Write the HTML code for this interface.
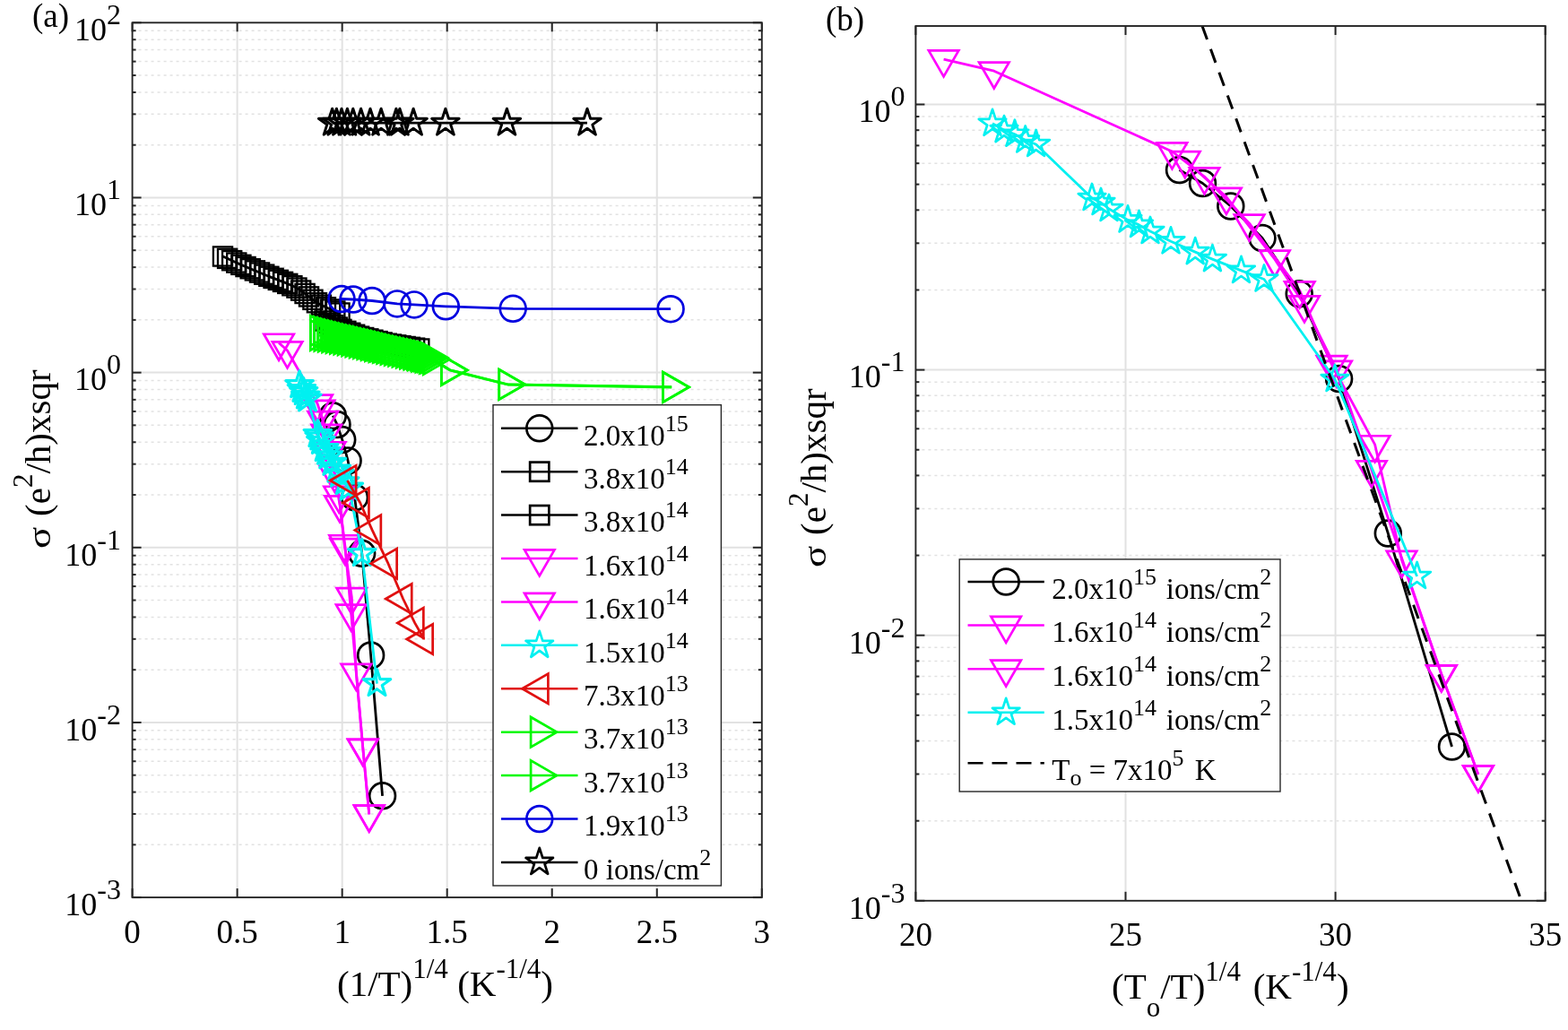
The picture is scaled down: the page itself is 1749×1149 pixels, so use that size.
<!DOCTYPE html>
<html><head><meta charset="utf-8"><title>plot</title>
<style>html,body{margin:0;padding:0;background:#fff;}svg{display:block;}</style>
</head><body>
<svg width="1749" height="1149" viewBox="0 0 1749 1149" font-family="'Liberation Serif','Times New Roman',serif">
<rect width="1749" height="1149" fill="#ffffff"/>
<line x1="147.6" y1="942.35" x2="849.8" y2="942.35" stroke="#e2e2e2" stroke-width="1.5" stroke-dasharray="3 4"/>
<line x1="147.6" y1="907.99" x2="849.8" y2="907.99" stroke="#e2e2e2" stroke-width="1.5" stroke-dasharray="3 4"/>
<line x1="147.6" y1="883.6" x2="849.8" y2="883.6" stroke="#e2e2e2" stroke-width="1.5" stroke-dasharray="3 4"/>
<line x1="147.6" y1="864.69" x2="849.8" y2="864.69" stroke="#e2e2e2" stroke-width="1.5" stroke-dasharray="3 4"/>
<line x1="147.6" y1="849.24" x2="849.8" y2="849.24" stroke="#e2e2e2" stroke-width="1.5" stroke-dasharray="3 4"/>
<line x1="147.6" y1="836.17" x2="849.8" y2="836.17" stroke="#e2e2e2" stroke-width="1.5" stroke-dasharray="3 4"/>
<line x1="147.6" y1="824.85" x2="849.8" y2="824.85" stroke="#e2e2e2" stroke-width="1.5" stroke-dasharray="3 4"/>
<line x1="147.6" y1="814.87" x2="849.8" y2="814.87" stroke="#e2e2e2" stroke-width="1.5" stroke-dasharray="3 4"/>
<line x1="147.6" y1="747.19" x2="849.8" y2="747.19" stroke="#e2e2e2" stroke-width="1.5" stroke-dasharray="3 4"/>
<line x1="147.6" y1="712.83" x2="849.8" y2="712.83" stroke="#e2e2e2" stroke-width="1.5" stroke-dasharray="3 4"/>
<line x1="147.6" y1="688.44" x2="849.8" y2="688.44" stroke="#e2e2e2" stroke-width="1.5" stroke-dasharray="3 4"/>
<line x1="147.6" y1="669.53" x2="849.8" y2="669.53" stroke="#e2e2e2" stroke-width="1.5" stroke-dasharray="3 4"/>
<line x1="147.6" y1="654.08" x2="849.8" y2="654.08" stroke="#e2e2e2" stroke-width="1.5" stroke-dasharray="3 4"/>
<line x1="147.6" y1="641.01" x2="849.8" y2="641.01" stroke="#e2e2e2" stroke-width="1.5" stroke-dasharray="3 4"/>
<line x1="147.6" y1="629.69" x2="849.8" y2="629.69" stroke="#e2e2e2" stroke-width="1.5" stroke-dasharray="3 4"/>
<line x1="147.6" y1="619.71" x2="849.8" y2="619.71" stroke="#e2e2e2" stroke-width="1.5" stroke-dasharray="3 4"/>
<line x1="147.6" y1="552.03" x2="849.8" y2="552.03" stroke="#e2e2e2" stroke-width="1.5" stroke-dasharray="3 4"/>
<line x1="147.6" y1="517.67" x2="849.8" y2="517.67" stroke="#e2e2e2" stroke-width="1.5" stroke-dasharray="3 4"/>
<line x1="147.6" y1="493.28" x2="849.8" y2="493.28" stroke="#e2e2e2" stroke-width="1.5" stroke-dasharray="3 4"/>
<line x1="147.6" y1="474.37" x2="849.8" y2="474.37" stroke="#e2e2e2" stroke-width="1.5" stroke-dasharray="3 4"/>
<line x1="147.6" y1="458.92" x2="849.8" y2="458.92" stroke="#e2e2e2" stroke-width="1.5" stroke-dasharray="3 4"/>
<line x1="147.6" y1="445.85" x2="849.8" y2="445.85" stroke="#e2e2e2" stroke-width="1.5" stroke-dasharray="3 4"/>
<line x1="147.6" y1="434.53" x2="849.8" y2="434.53" stroke="#e2e2e2" stroke-width="1.5" stroke-dasharray="3 4"/>
<line x1="147.6" y1="424.55" x2="849.8" y2="424.55" stroke="#e2e2e2" stroke-width="1.5" stroke-dasharray="3 4"/>
<line x1="147.6" y1="356.87" x2="849.8" y2="356.87" stroke="#e2e2e2" stroke-width="1.5" stroke-dasharray="3 4"/>
<line x1="147.6" y1="322.51" x2="849.8" y2="322.51" stroke="#e2e2e2" stroke-width="1.5" stroke-dasharray="3 4"/>
<line x1="147.6" y1="298.12" x2="849.8" y2="298.12" stroke="#e2e2e2" stroke-width="1.5" stroke-dasharray="3 4"/>
<line x1="147.6" y1="279.21" x2="849.8" y2="279.21" stroke="#e2e2e2" stroke-width="1.5" stroke-dasharray="3 4"/>
<line x1="147.6" y1="263.76" x2="849.8" y2="263.76" stroke="#e2e2e2" stroke-width="1.5" stroke-dasharray="3 4"/>
<line x1="147.6" y1="250.69" x2="849.8" y2="250.69" stroke="#e2e2e2" stroke-width="1.5" stroke-dasharray="3 4"/>
<line x1="147.6" y1="239.37" x2="849.8" y2="239.37" stroke="#e2e2e2" stroke-width="1.5" stroke-dasharray="3 4"/>
<line x1="147.6" y1="229.39" x2="849.8" y2="229.39" stroke="#e2e2e2" stroke-width="1.5" stroke-dasharray="3 4"/>
<line x1="147.6" y1="161.71" x2="849.8" y2="161.71" stroke="#e2e2e2" stroke-width="1.5" stroke-dasharray="3 4"/>
<line x1="147.6" y1="127.35" x2="849.8" y2="127.35" stroke="#e2e2e2" stroke-width="1.5" stroke-dasharray="3 4"/>
<line x1="147.6" y1="102.96" x2="849.8" y2="102.96" stroke="#e2e2e2" stroke-width="1.5" stroke-dasharray="3 4"/>
<line x1="147.6" y1="84.05" x2="849.8" y2="84.05" stroke="#e2e2e2" stroke-width="1.5" stroke-dasharray="3 4"/>
<line x1="147.6" y1="68.6" x2="849.8" y2="68.6" stroke="#e2e2e2" stroke-width="1.5" stroke-dasharray="3 4"/>
<line x1="147.6" y1="55.53" x2="849.8" y2="55.53" stroke="#e2e2e2" stroke-width="1.5" stroke-dasharray="3 4"/>
<line x1="147.6" y1="44.21" x2="849.8" y2="44.21" stroke="#e2e2e2" stroke-width="1.5" stroke-dasharray="3 4"/>
<line x1="147.6" y1="34.23" x2="849.8" y2="34.23" stroke="#e2e2e2" stroke-width="1.5" stroke-dasharray="3 4"/>
<line x1="147.6" y1="805.94" x2="849.8" y2="805.94" stroke="#e2e2e2" stroke-width="2"/>
<line x1="147.6" y1="610.78" x2="849.8" y2="610.78" stroke="#e2e2e2" stroke-width="2"/>
<line x1="147.6" y1="415.62" x2="849.8" y2="415.62" stroke="#e2e2e2" stroke-width="2"/>
<line x1="147.6" y1="220.46" x2="849.8" y2="220.46" stroke="#e2e2e2" stroke-width="2"/>
<line x1="264.63" y1="25.3" x2="264.63" y2="1001.1" stroke="#e2e2e2" stroke-width="2"/>
<line x1="381.67" y1="25.3" x2="381.67" y2="1001.1" stroke="#e2e2e2" stroke-width="2"/>
<line x1="498.7" y1="25.3" x2="498.7" y2="1001.1" stroke="#e2e2e2" stroke-width="2"/>
<line x1="615.73" y1="25.3" x2="615.73" y2="1001.1" stroke="#e2e2e2" stroke-width="2"/>
<line x1="732.77" y1="25.3" x2="732.77" y2="1001.1" stroke="#e2e2e2" stroke-width="2"/>
<line x1="1021.4" y1="915.67" x2="1723.7" y2="915.67" stroke="#e2e2e2" stroke-width="1.5" stroke-dasharray="3 4"/>
<line x1="1021.4" y1="863.52" x2="1723.7" y2="863.52" stroke="#e2e2e2" stroke-width="1.5" stroke-dasharray="3 4"/>
<line x1="1021.4" y1="826.53" x2="1723.7" y2="826.53" stroke="#e2e2e2" stroke-width="1.5" stroke-dasharray="3 4"/>
<line x1="1021.4" y1="797.83" x2="1723.7" y2="797.83" stroke="#e2e2e2" stroke-width="1.5" stroke-dasharray="3 4"/>
<line x1="1021.4" y1="774.39" x2="1723.7" y2="774.39" stroke="#e2e2e2" stroke-width="1.5" stroke-dasharray="3 4"/>
<line x1="1021.4" y1="754.57" x2="1723.7" y2="754.57" stroke="#e2e2e2" stroke-width="1.5" stroke-dasharray="3 4"/>
<line x1="1021.4" y1="737.4" x2="1723.7" y2="737.4" stroke="#e2e2e2" stroke-width="1.5" stroke-dasharray="3 4"/>
<line x1="1021.4" y1="722.25" x2="1723.7" y2="722.25" stroke="#e2e2e2" stroke-width="1.5" stroke-dasharray="3 4"/>
<line x1="1021.4" y1="619.57" x2="1723.7" y2="619.57" stroke="#e2e2e2" stroke-width="1.5" stroke-dasharray="3 4"/>
<line x1="1021.4" y1="567.42" x2="1723.7" y2="567.42" stroke="#e2e2e2" stroke-width="1.5" stroke-dasharray="3 4"/>
<line x1="1021.4" y1="530.43" x2="1723.7" y2="530.43" stroke="#e2e2e2" stroke-width="1.5" stroke-dasharray="3 4"/>
<line x1="1021.4" y1="501.73" x2="1723.7" y2="501.73" stroke="#e2e2e2" stroke-width="1.5" stroke-dasharray="3 4"/>
<line x1="1021.4" y1="478.29" x2="1723.7" y2="478.29" stroke="#e2e2e2" stroke-width="1.5" stroke-dasharray="3 4"/>
<line x1="1021.4" y1="458.47" x2="1723.7" y2="458.47" stroke="#e2e2e2" stroke-width="1.5" stroke-dasharray="3 4"/>
<line x1="1021.4" y1="441.3" x2="1723.7" y2="441.3" stroke="#e2e2e2" stroke-width="1.5" stroke-dasharray="3 4"/>
<line x1="1021.4" y1="426.15" x2="1723.7" y2="426.15" stroke="#e2e2e2" stroke-width="1.5" stroke-dasharray="3 4"/>
<line x1="1021.4" y1="323.47" x2="1723.7" y2="323.47" stroke="#e2e2e2" stroke-width="1.5" stroke-dasharray="3 4"/>
<line x1="1021.4" y1="271.32" x2="1723.7" y2="271.32" stroke="#e2e2e2" stroke-width="1.5" stroke-dasharray="3 4"/>
<line x1="1021.4" y1="234.33" x2="1723.7" y2="234.33" stroke="#e2e2e2" stroke-width="1.5" stroke-dasharray="3 4"/>
<line x1="1021.4" y1="205.63" x2="1723.7" y2="205.63" stroke="#e2e2e2" stroke-width="1.5" stroke-dasharray="3 4"/>
<line x1="1021.4" y1="182.19" x2="1723.7" y2="182.19" stroke="#e2e2e2" stroke-width="1.5" stroke-dasharray="3 4"/>
<line x1="1021.4" y1="162.37" x2="1723.7" y2="162.37" stroke="#e2e2e2" stroke-width="1.5" stroke-dasharray="3 4"/>
<line x1="1021.4" y1="145.2" x2="1723.7" y2="145.2" stroke="#e2e2e2" stroke-width="1.5" stroke-dasharray="3 4"/>
<line x1="1021.4" y1="130.05" x2="1723.7" y2="130.05" stroke="#e2e2e2" stroke-width="1.5" stroke-dasharray="3 4"/>
<line x1="1021.4" y1="708.7" x2="1723.7" y2="708.7" stroke="#e2e2e2" stroke-width="2"/>
<line x1="1021.4" y1="412.6" x2="1723.7" y2="412.6" stroke="#e2e2e2" stroke-width="2"/>
<line x1="1021.4" y1="116.5" x2="1723.7" y2="116.5" stroke="#e2e2e2" stroke-width="2"/>
<line x1="1255.5" y1="29" x2="1255.5" y2="1004.8" stroke="#e2e2e2" stroke-width="2"/>
<line x1="1489.6" y1="29" x2="1489.6" y2="1004.8" stroke="#e2e2e2" stroke-width="2"/>
<polyline points="371.3,463.73 376.03,473.62 381.72,490.43 388.11,513.89 395.6,554.89 403.68,617.37 413.62,731 426.56,887.87" fill="none" stroke="#000000" stroke-width="2.8" stroke-linejoin="round"/>
<circle cx="371.3" cy="463.73" r="14.4" fill="none" stroke="#000000" stroke-width="2.7"/>
<circle cx="376.03" cy="473.62" r="14.4" fill="none" stroke="#000000" stroke-width="2.7"/>
<circle cx="381.72" cy="490.43" r="14.4" fill="none" stroke="#000000" stroke-width="2.7"/>
<circle cx="388.11" cy="513.89" r="14.4" fill="none" stroke="#000000" stroke-width="2.7"/>
<circle cx="395.6" cy="554.89" r="14.4" fill="none" stroke="#000000" stroke-width="2.7"/>
<circle cx="403.68" cy="617.37" r="14.4" fill="none" stroke="#000000" stroke-width="2.7"/>
<circle cx="413.62" cy="731" r="14.4" fill="none" stroke="#000000" stroke-width="2.7"/>
<circle cx="426.56" cy="887.87" r="14.4" fill="none" stroke="#000000" stroke-width="2.7"/>
<polyline points="248.5,286 253.59,288.35 258.67,290.69 263.76,293.04 268.86,295.36 274.02,297.53 279.19,299.69 284.36,301.86 289.52,304.02 294.69,306.19 299.86,308.33 305.09,310.35 310.31,312.37 315.54,314.39 320.76,316.41 325.86,318.73 330.95,321.06 335.65,324.05 340.08,327.47 344.52,330.9 348.94,334.34 353.41,337.7 358.42,340.21 363.43,342.71 368.54,344.98 373.77,346.99 379,349" fill="none" stroke="#000000" stroke-width="2.8" stroke-linejoin="round"/>
<rect x="237.9" y="275.4" width="21.2" height="21.2" fill="none" stroke="#000000" stroke-width="2.3"/>
<rect x="242.99" y="277.75" width="21.2" height="21.2" fill="none" stroke="#000000" stroke-width="2.3"/>
<rect x="248.07" y="280.09" width="21.2" height="21.2" fill="none" stroke="#000000" stroke-width="2.3"/>
<rect x="253.16" y="282.44" width="21.2" height="21.2" fill="none" stroke="#000000" stroke-width="2.3"/>
<rect x="258.26" y="284.76" width="21.2" height="21.2" fill="none" stroke="#000000" stroke-width="2.3"/>
<rect x="263.42" y="286.93" width="21.2" height="21.2" fill="none" stroke="#000000" stroke-width="2.3"/>
<rect x="268.59" y="289.09" width="21.2" height="21.2" fill="none" stroke="#000000" stroke-width="2.3"/>
<rect x="273.76" y="291.26" width="21.2" height="21.2" fill="none" stroke="#000000" stroke-width="2.3"/>
<rect x="278.92" y="293.42" width="21.2" height="21.2" fill="none" stroke="#000000" stroke-width="2.3"/>
<rect x="284.09" y="295.59" width="21.2" height="21.2" fill="none" stroke="#000000" stroke-width="2.3"/>
<rect x="289.26" y="297.73" width="21.2" height="21.2" fill="none" stroke="#000000" stroke-width="2.3"/>
<rect x="294.49" y="299.75" width="21.2" height="21.2" fill="none" stroke="#000000" stroke-width="2.3"/>
<rect x="299.71" y="301.77" width="21.2" height="21.2" fill="none" stroke="#000000" stroke-width="2.3"/>
<rect x="304.94" y="303.79" width="21.2" height="21.2" fill="none" stroke="#000000" stroke-width="2.3"/>
<rect x="310.16" y="305.81" width="21.2" height="21.2" fill="none" stroke="#000000" stroke-width="2.3"/>
<rect x="315.26" y="308.13" width="21.2" height="21.2" fill="none" stroke="#000000" stroke-width="2.3"/>
<rect x="320.35" y="310.46" width="21.2" height="21.2" fill="none" stroke="#000000" stroke-width="2.3"/>
<rect x="325.05" y="313.45" width="21.2" height="21.2" fill="none" stroke="#000000" stroke-width="2.3"/>
<rect x="329.48" y="316.87" width="21.2" height="21.2" fill="none" stroke="#000000" stroke-width="2.3"/>
<rect x="333.92" y="320.3" width="21.2" height="21.2" fill="none" stroke="#000000" stroke-width="2.3"/>
<rect x="338.34" y="323.74" width="21.2" height="21.2" fill="none" stroke="#000000" stroke-width="2.3"/>
<rect x="342.81" y="327.1" width="21.2" height="21.2" fill="none" stroke="#000000" stroke-width="2.3"/>
<rect x="347.82" y="329.61" width="21.2" height="21.2" fill="none" stroke="#000000" stroke-width="2.3"/>
<rect x="352.83" y="332.11" width="21.2" height="21.2" fill="none" stroke="#000000" stroke-width="2.3"/>
<rect x="357.94" y="334.38" width="21.2" height="21.2" fill="none" stroke="#000000" stroke-width="2.3"/>
<rect x="363.17" y="336.39" width="21.2" height="21.2" fill="none" stroke="#000000" stroke-width="2.3"/>
<rect x="368.4" y="338.4" width="21.2" height="21.2" fill="none" stroke="#000000" stroke-width="2.3"/>
<polyline points="362,358 366.73,360.36 371.45,362.73 376.18,365.09 380.94,367.38 385.85,369.34 390.76,371.3 395.66,373.27 400.59,375.16 405.7,376.52 410.81,377.88 415.91,379.24 421.02,380.61 426.13,381.97 431.26,383.2 436.48,384.03 441.7,384.86 446.92,385.69 452.14,386.51 457.36,387.34 462.58,388.17 467.8,389" fill="none" stroke="#000000" stroke-width="2.8" stroke-linejoin="round"/>
<rect x="351.4" y="347.4" width="21.2" height="21.2" fill="none" stroke="#000000" stroke-width="2.3"/>
<rect x="356.13" y="349.76" width="21.2" height="21.2" fill="none" stroke="#000000" stroke-width="2.3"/>
<rect x="360.85" y="352.13" width="21.2" height="21.2" fill="none" stroke="#000000" stroke-width="2.3"/>
<rect x="365.58" y="354.49" width="21.2" height="21.2" fill="none" stroke="#000000" stroke-width="2.3"/>
<rect x="370.34" y="356.78" width="21.2" height="21.2" fill="none" stroke="#000000" stroke-width="2.3"/>
<rect x="375.25" y="358.74" width="21.2" height="21.2" fill="none" stroke="#000000" stroke-width="2.3"/>
<rect x="380.16" y="360.7" width="21.2" height="21.2" fill="none" stroke="#000000" stroke-width="2.3"/>
<rect x="385.06" y="362.67" width="21.2" height="21.2" fill="none" stroke="#000000" stroke-width="2.3"/>
<rect x="389.99" y="364.56" width="21.2" height="21.2" fill="none" stroke="#000000" stroke-width="2.3"/>
<rect x="395.1" y="365.92" width="21.2" height="21.2" fill="none" stroke="#000000" stroke-width="2.3"/>
<rect x="400.21" y="367.28" width="21.2" height="21.2" fill="none" stroke="#000000" stroke-width="2.3"/>
<rect x="405.31" y="368.64" width="21.2" height="21.2" fill="none" stroke="#000000" stroke-width="2.3"/>
<rect x="410.42" y="370.01" width="21.2" height="21.2" fill="none" stroke="#000000" stroke-width="2.3"/>
<rect x="415.53" y="371.37" width="21.2" height="21.2" fill="none" stroke="#000000" stroke-width="2.3"/>
<rect x="420.66" y="372.6" width="21.2" height="21.2" fill="none" stroke="#000000" stroke-width="2.3"/>
<rect x="425.88" y="373.43" width="21.2" height="21.2" fill="none" stroke="#000000" stroke-width="2.3"/>
<rect x="431.1" y="374.26" width="21.2" height="21.2" fill="none" stroke="#000000" stroke-width="2.3"/>
<rect x="436.32" y="375.09" width="21.2" height="21.2" fill="none" stroke="#000000" stroke-width="2.3"/>
<rect x="441.54" y="375.91" width="21.2" height="21.2" fill="none" stroke="#000000" stroke-width="2.3"/>
<rect x="446.76" y="376.74" width="21.2" height="21.2" fill="none" stroke="#000000" stroke-width="2.3"/>
<rect x="451.98" y="377.57" width="21.2" height="21.2" fill="none" stroke="#000000" stroke-width="2.3"/>
<rect x="457.2" y="378.4" width="21.2" height="21.2" fill="none" stroke="#000000" stroke-width="2.3"/>
<polyline points="311.03,382.4 320.52,391.04 354.06,450.22 360.16,468.68 368.62,503.08 378.09,552.38 384.14,606.89 392.26,665.68 397.31,750.44 404.8,834.48 411.74,908.3" fill="none" stroke="#ff00ff" stroke-width="2.8" stroke-linejoin="round"/>
<polygon points="311.03,401.7 294.31,372.75 327.74,372.75" fill="none" stroke="#ff00ff" stroke-width="2.7" stroke-linejoin="miter"/>
<polygon points="320.52,410.34 303.8,381.39 337.23,381.39" fill="none" stroke="#ff00ff" stroke-width="2.7" stroke-linejoin="miter"/>
<polygon points="354.06,469.52 337.35,440.57 370.77,440.57" fill="none" stroke="#ff00ff" stroke-width="2.7" stroke-linejoin="miter"/>
<polygon points="360.16,487.98 343.44,459.03 376.87,459.03" fill="none" stroke="#ff00ff" stroke-width="2.7" stroke-linejoin="miter"/>
<polygon points="368.62,522.38 351.91,493.43 385.33,493.43" fill="none" stroke="#ff00ff" stroke-width="2.7" stroke-linejoin="miter"/>
<polygon points="378.09,571.68 361.38,542.73 394.81,542.73" fill="none" stroke="#ff00ff" stroke-width="2.7" stroke-linejoin="miter"/>
<polygon points="384.14,626.19 367.43,597.24 400.85,597.24" fill="none" stroke="#ff00ff" stroke-width="2.7" stroke-linejoin="miter"/>
<polygon points="392.26,684.98 375.55,656.03 408.98,656.03" fill="none" stroke="#ff00ff" stroke-width="2.7" stroke-linejoin="miter"/>
<polygon points="397.31,769.74 380.6,740.79 414.03,740.79" fill="none" stroke="#ff00ff" stroke-width="2.7" stroke-linejoin="miter"/>
<polygon points="404.8,853.78 388.08,824.83 421.51,824.83" fill="none" stroke="#ff00ff" stroke-width="2.7" stroke-linejoin="miter"/>
<polygon points="411.74,927.6 395.02,898.65 428.45,898.65" fill="none" stroke="#ff00ff" stroke-width="2.7" stroke-linejoin="miter"/>
<polyline points="356.49,456.62 364.28,483.57 373.4,529.45 378.99,562.93 385.07,610.71 391.64,684.2 404.8,834.48 411.74,908.3" fill="none" stroke="#ff00ff" stroke-width="2.8" stroke-linejoin="round"/>
<polygon points="356.49,475.92 339.78,446.97 373.21,446.97" fill="none" stroke="#ff00ff" stroke-width="2.7" stroke-linejoin="miter"/>
<polygon points="364.28,502.87 347.56,473.92 380.99,473.92" fill="none" stroke="#ff00ff" stroke-width="2.7" stroke-linejoin="miter"/>
<polygon points="373.4,548.75 356.68,519.8 390.11,519.8" fill="none" stroke="#ff00ff" stroke-width="2.7" stroke-linejoin="miter"/>
<polygon points="378.99,582.23 362.28,553.28 395.7,553.28" fill="none" stroke="#ff00ff" stroke-width="2.7" stroke-linejoin="miter"/>
<polygon points="385.07,630.01 368.36,601.06 401.78,601.06" fill="none" stroke="#ff00ff" stroke-width="2.7" stroke-linejoin="miter"/>
<polygon points="391.64,703.5 374.93,674.55 408.35,674.55" fill="none" stroke="#ff00ff" stroke-width="2.7" stroke-linejoin="miter"/>
<polygon points="404.8,853.78 388.08,824.83 421.51,824.83" fill="none" stroke="#ff00ff" stroke-width="2.7" stroke-linejoin="miter"/>
<polygon points="411.74,927.6 395.02,898.65 428.45,898.65" fill="none" stroke="#ff00ff" stroke-width="2.7" stroke-linejoin="miter"/>
<polyline points="334.07,429.66 336.44,434.47 338.62,437.5 340.77,441.98 342.94,444.95 354.33,484.5 356.15,487.79 357.79,492.41 361.62,500.58 363.9,504.2 366.19,508.88 370.38,516.33 375.34,524.11 378.85,529.38 384.7,537.82 389.36,544.14 403.77,617.63 420.48,762.64" fill="none" stroke="#00f0f0" stroke-width="2.8" stroke-linejoin="round"/>
<polygon points="334.07,413.66 337.66,424.71 349.29,424.71 339.89,431.55 343.48,442.6 334.07,435.77 324.67,442.6 328.26,431.55 318.86,424.71 330.48,424.71" fill="none" stroke="#00f0f0" stroke-width="3.2" stroke-linejoin="round"/>
<polygon points="336.44,418.47 340.04,429.53 351.66,429.53 342.26,436.36 345.85,447.41 336.44,440.58 327.04,447.41 330.63,436.36 321.23,429.53 332.85,429.53" fill="none" stroke="#00f0f0" stroke-width="3.2" stroke-linejoin="round"/>
<polygon points="338.62,421.5 342.21,432.56 353.83,432.56 344.43,439.39 348.02,450.45 338.62,443.61 329.21,450.45 332.8,439.39 323.4,432.56 335.02,432.56" fill="none" stroke="#00f0f0" stroke-width="3.2" stroke-linejoin="round"/>
<polygon points="340.77,425.98 344.36,437.04 355.99,437.04 346.58,443.87 350.17,454.93 340.77,448.1 331.36,454.93 334.96,443.87 325.55,437.04 337.18,437.04" fill="none" stroke="#00f0f0" stroke-width="3.2" stroke-linejoin="round"/>
<polygon points="342.94,428.95 346.53,440.01 358.16,440.01 348.75,446.84 352.34,457.89 342.94,451.06 333.54,457.89 337.13,446.84 327.72,440.01 339.35,440.01" fill="none" stroke="#00f0f0" stroke-width="3.2" stroke-linejoin="round"/>
<polygon points="354.33,468.5 357.92,479.55 369.54,479.55 360.14,486.38 363.73,497.44 354.33,490.61 344.92,497.44 348.51,486.38 339.11,479.55 350.73,479.55" fill="none" stroke="#00f0f0" stroke-width="3.2" stroke-linejoin="round"/>
<polygon points="356.15,471.79 359.74,482.85 371.37,482.85 361.96,489.68 365.55,500.74 356.15,493.9 346.75,500.74 350.34,489.68 340.93,482.85 352.56,482.85" fill="none" stroke="#00f0f0" stroke-width="3.2" stroke-linejoin="round"/>
<polygon points="357.79,476.41 361.38,487.46 373.01,487.46 363.6,494.29 367.2,505.35 357.79,498.52 348.39,505.35 351.98,494.29 342.58,487.46 354.2,487.46" fill="none" stroke="#00f0f0" stroke-width="3.2" stroke-linejoin="round"/>
<polygon points="361.62,484.58 365.22,495.63 376.84,495.63 367.44,502.47 371.03,513.52 361.62,506.69 352.22,513.52 355.81,502.47 346.41,495.63 358.03,495.63" fill="none" stroke="#00f0f0" stroke-width="3.2" stroke-linejoin="round"/>
<polygon points="363.9,488.2 367.5,499.26 379.12,499.26 369.72,506.09 373.31,517.15 363.9,510.32 354.5,517.15 358.09,506.09 348.69,499.26 360.31,499.26" fill="none" stroke="#00f0f0" stroke-width="3.2" stroke-linejoin="round"/>
<polygon points="366.19,492.88 369.78,503.94 381.4,503.94 372,510.77 375.59,521.83 366.19,514.99 356.78,521.83 360.37,510.77 350.97,503.94 362.59,503.94" fill="none" stroke="#00f0f0" stroke-width="3.2" stroke-linejoin="round"/>
<polygon points="370.38,500.33 373.97,511.39 385.6,511.39 376.19,518.22 379.79,529.28 370.38,522.44 360.98,529.28 364.57,518.22 355.16,511.39 366.79,511.39" fill="none" stroke="#00f0f0" stroke-width="3.2" stroke-linejoin="round"/>
<polygon points="375.34,508.11 378.94,519.16 390.56,519.16 381.16,526 384.75,537.05 375.34,530.22 365.94,537.05 369.53,526 360.13,519.16 371.75,519.16" fill="none" stroke="#00f0f0" stroke-width="3.2" stroke-linejoin="round"/>
<polygon points="378.85,513.38 382.44,524.44 394.06,524.44 384.66,531.27 388.25,542.33 378.85,535.49 369.44,542.33 373.03,531.27 363.63,524.44 375.26,524.44" fill="none" stroke="#00f0f0" stroke-width="3.2" stroke-linejoin="round"/>
<polygon points="384.7,521.82 388.3,532.87 399.92,532.87 390.52,539.71 394.11,550.76 384.7,543.93 375.3,550.76 378.89,539.71 369.49,532.87 381.11,532.87" fill="none" stroke="#00f0f0" stroke-width="3.2" stroke-linejoin="round"/>
<polygon points="389.36,528.14 392.95,539.2 404.57,539.2 395.17,546.03 398.76,557.09 389.36,550.26 379.95,557.09 383.54,546.03 374.14,539.2 385.76,539.2" fill="none" stroke="#00f0f0" stroke-width="3.2" stroke-linejoin="round"/>
<polygon points="403.77,601.63 407.36,612.69 418.99,612.69 409.58,619.52 413.18,630.58 403.77,623.75 394.37,630.58 397.96,619.52 388.55,612.69 400.18,612.69" fill="none" stroke="#00f0f0" stroke-width="3.2" stroke-linejoin="round"/>
<polygon points="420.48,746.64 424.08,757.69 435.7,757.69 426.3,764.53 429.89,775.58 420.48,768.75 411.08,775.58 414.67,764.53 405.27,757.69 416.89,757.69" fill="none" stroke="#00f0f0" stroke-width="3.2" stroke-linejoin="round"/>
<polyline points="387.5,536 401.8,561 415.2,591.4 433,628.7 449.6,668 462.7,694.9 473,713" fill="none" stroke="#e01010" stroke-width="2.8" stroke-linejoin="round"/>
<polygon points="368.2,536 397.15,519.29 397.15,552.71" fill="none" stroke="#e01010" stroke-width="2.7" stroke-linejoin="miter"/>
<polygon points="382.5,561 411.45,544.29 411.45,577.71" fill="none" stroke="#e01010" stroke-width="2.7" stroke-linejoin="miter"/>
<polygon points="395.9,591.4 424.85,574.69 424.85,608.11" fill="none" stroke="#e01010" stroke-width="2.7" stroke-linejoin="miter"/>
<polygon points="413.7,628.7 442.65,611.99 442.65,645.41" fill="none" stroke="#e01010" stroke-width="2.7" stroke-linejoin="miter"/>
<polygon points="430.3,668 459.25,651.29 459.25,684.71" fill="none" stroke="#e01010" stroke-width="2.7" stroke-linejoin="miter"/>
<polygon points="443.4,694.9 472.35,678.19 472.35,711.61" fill="none" stroke="#e01010" stroke-width="2.7" stroke-linejoin="miter"/>
<polygon points="453.7,713 482.65,696.29 482.65,729.71" fill="none" stroke="#e01010" stroke-width="2.7" stroke-linejoin="miter"/>
<polyline points="356,369 359.98,370.06 363.95,371.12 367.93,372.18 371.91,373.24 375.88,374.3 379.86,375.36 383.84,376.42 387.83,377.41 391.85,378.32 395.86,379.22 399.88,380.12 403.9,381.03 407.9,381.96 411.9,382.94 415.9,383.91 419.9,384.88 423.9,385.85 427.9,386.83 431.9,387.8 435.9,388.77 439.9,389.75 443.9,390.7 447.92,391.58 451.94,392.47 455.96,393.35 459.98,394.24 464,395.12 468.02,396.01 472.01,397 476.01,398 480,399 502,412.8 566.4,428.8 749.2,431.7" fill="none" stroke="#00f800" stroke-width="2.8" stroke-linejoin="round"/>
<polygon points="375.3,369 346.35,352.29 346.35,385.71" fill="none" stroke="#00f800" stroke-width="2.7" stroke-linejoin="miter"/>
<polygon points="379.28,370.06 350.33,353.35 350.33,386.77" fill="none" stroke="#00f800" stroke-width="2.7" stroke-linejoin="miter"/>
<polygon points="383.25,371.12 354.3,354.41 354.3,387.83" fill="none" stroke="#00f800" stroke-width="2.7" stroke-linejoin="miter"/>
<polygon points="387.23,372.18 358.28,355.47 358.28,388.9" fill="none" stroke="#00f800" stroke-width="2.7" stroke-linejoin="miter"/>
<polygon points="391.21,373.24 362.26,356.53 362.26,389.96" fill="none" stroke="#00f800" stroke-width="2.7" stroke-linejoin="miter"/>
<polygon points="395.18,374.3 366.23,357.59 366.23,391.02" fill="none" stroke="#00f800" stroke-width="2.7" stroke-linejoin="miter"/>
<polygon points="399.16,375.36 370.21,358.65 370.21,392.08" fill="none" stroke="#00f800" stroke-width="2.7" stroke-linejoin="miter"/>
<polygon points="403.14,376.42 374.19,359.71 374.19,393.14" fill="none" stroke="#00f800" stroke-width="2.7" stroke-linejoin="miter"/>
<polygon points="407.13,377.41 378.18,360.7 378.18,394.13" fill="none" stroke="#00f800" stroke-width="2.7" stroke-linejoin="miter"/>
<polygon points="411.15,378.32 382.2,361.6 382.2,395.03" fill="none" stroke="#00f800" stroke-width="2.7" stroke-linejoin="miter"/>
<polygon points="415.16,379.22 386.21,362.51 386.21,395.93" fill="none" stroke="#00f800" stroke-width="2.7" stroke-linejoin="miter"/>
<polygon points="419.18,380.12 390.23,363.41 390.23,396.84" fill="none" stroke="#00f800" stroke-width="2.7" stroke-linejoin="miter"/>
<polygon points="423.2,381.03 394.25,364.31 394.25,397.74" fill="none" stroke="#00f800" stroke-width="2.7" stroke-linejoin="miter"/>
<polygon points="427.2,381.96 398.25,365.25 398.25,398.68" fill="none" stroke="#00f800" stroke-width="2.7" stroke-linejoin="miter"/>
<polygon points="431.2,382.94 402.25,366.22 402.25,399.65" fill="none" stroke="#00f800" stroke-width="2.7" stroke-linejoin="miter"/>
<polygon points="435.2,383.91 406.25,367.19 406.25,400.62" fill="none" stroke="#00f800" stroke-width="2.7" stroke-linejoin="miter"/>
<polygon points="439.2,384.88 410.25,368.17 410.25,401.6" fill="none" stroke="#00f800" stroke-width="2.7" stroke-linejoin="miter"/>
<polygon points="443.2,385.85 414.25,369.14 414.25,402.57" fill="none" stroke="#00f800" stroke-width="2.7" stroke-linejoin="miter"/>
<polygon points="447.2,386.83 418.25,370.11 418.25,403.54" fill="none" stroke="#00f800" stroke-width="2.7" stroke-linejoin="miter"/>
<polygon points="451.2,387.8 422.25,371.09 422.25,404.51" fill="none" stroke="#00f800" stroke-width="2.7" stroke-linejoin="miter"/>
<polygon points="455.2,388.77 426.25,372.06 426.25,405.49" fill="none" stroke="#00f800" stroke-width="2.7" stroke-linejoin="miter"/>
<polygon points="459.2,389.75 430.25,373.03 430.25,406.46" fill="none" stroke="#00f800" stroke-width="2.7" stroke-linejoin="miter"/>
<polygon points="463.2,390.7 434.25,373.98 434.25,407.41" fill="none" stroke="#00f800" stroke-width="2.7" stroke-linejoin="miter"/>
<polygon points="467.22,391.58 438.27,374.87 438.27,408.3" fill="none" stroke="#00f800" stroke-width="2.7" stroke-linejoin="miter"/>
<polygon points="471.24,392.47 442.29,375.75 442.29,409.18" fill="none" stroke="#00f800" stroke-width="2.7" stroke-linejoin="miter"/>
<polygon points="475.26,393.35 446.31,376.64 446.31,410.07" fill="none" stroke="#00f800" stroke-width="2.7" stroke-linejoin="miter"/>
<polygon points="479.28,394.24 450.33,377.52 450.33,410.95" fill="none" stroke="#00f800" stroke-width="2.7" stroke-linejoin="miter"/>
<polygon points="483.3,395.12 454.35,378.41 454.35,411.83" fill="none" stroke="#00f800" stroke-width="2.7" stroke-linejoin="miter"/>
<polygon points="487.32,396.01 458.37,379.29 458.37,412.72" fill="none" stroke="#00f800" stroke-width="2.7" stroke-linejoin="miter"/>
<polygon points="491.31,397 462.36,380.29 462.36,413.72" fill="none" stroke="#00f800" stroke-width="2.7" stroke-linejoin="miter"/>
<polygon points="495.31,398 466.36,381.29 466.36,414.72" fill="none" stroke="#00f800" stroke-width="2.7" stroke-linejoin="miter"/>
<polygon points="499.3,399 470.35,382.29 470.35,415.71" fill="none" stroke="#00f800" stroke-width="2.7" stroke-linejoin="miter"/>
<polygon points="521.3,412.8 492.35,396.09 492.35,429.51" fill="none" stroke="#00f800" stroke-width="2.7" stroke-linejoin="miter"/>
<polygon points="585.7,428.8 556.75,412.09 556.75,445.51" fill="none" stroke="#00f800" stroke-width="2.7" stroke-linejoin="miter"/>
<polygon points="768.5,431.7 739.55,414.99 739.55,448.41" fill="none" stroke="#00f800" stroke-width="2.7" stroke-linejoin="miter"/>
<polyline points="356,374 360.39,374.73 364.77,375.46 369.16,376.19 373.54,376.92 377.93,377.65 382.31,378.39 386.69,379.16 391.03,380.13 395.36,381.11 399.7,382.08 404.04,383.06 408.38,384.01 412.73,384.95 417.07,385.89 421.42,386.83 425.76,387.77 430.11,388.71 434.45,389.65 438.8,390.59 443.14,391.53 447.48,392.49 451.83,393.44 456.17,394.4 460.51,395.35 464.85,396.31 469.18,397.34 473.45,398.56 477.73,399.78 482,401 502,413 566.4,429 749.2,432" fill="none" stroke="#00f800" stroke-width="2.8" stroke-linejoin="round"/>
<polygon points="375.3,374 346.35,357.29 346.35,390.71" fill="none" stroke="#00f800" stroke-width="2.7" stroke-linejoin="miter"/>
<polygon points="379.69,374.73 350.74,358.02 350.74,391.44" fill="none" stroke="#00f800" stroke-width="2.7" stroke-linejoin="miter"/>
<polygon points="384.07,375.46 355.12,358.75 355.12,392.18" fill="none" stroke="#00f800" stroke-width="2.7" stroke-linejoin="miter"/>
<polygon points="388.46,376.19 359.51,359.48 359.51,392.91" fill="none" stroke="#00f800" stroke-width="2.7" stroke-linejoin="miter"/>
<polygon points="392.84,376.92 363.89,360.21 363.89,393.64" fill="none" stroke="#00f800" stroke-width="2.7" stroke-linejoin="miter"/>
<polygon points="397.23,377.65 368.28,360.94 368.28,394.37" fill="none" stroke="#00f800" stroke-width="2.7" stroke-linejoin="miter"/>
<polygon points="401.61,378.39 372.66,361.67 372.66,395.1" fill="none" stroke="#00f800" stroke-width="2.7" stroke-linejoin="miter"/>
<polygon points="405.99,379.16 377.04,362.44 377.04,395.87" fill="none" stroke="#00f800" stroke-width="2.7" stroke-linejoin="miter"/>
<polygon points="410.33,380.13 381.38,363.42 381.38,396.84" fill="none" stroke="#00f800" stroke-width="2.7" stroke-linejoin="miter"/>
<polygon points="414.66,381.11 385.71,364.39 385.71,397.82" fill="none" stroke="#00f800" stroke-width="2.7" stroke-linejoin="miter"/>
<polygon points="419,382.08 390.05,365.37 390.05,398.8" fill="none" stroke="#00f800" stroke-width="2.7" stroke-linejoin="miter"/>
<polygon points="423.34,383.06 394.39,366.34 394.39,399.77" fill="none" stroke="#00f800" stroke-width="2.7" stroke-linejoin="miter"/>
<polygon points="427.68,384.01 398.73,367.3 398.73,400.73" fill="none" stroke="#00f800" stroke-width="2.7" stroke-linejoin="miter"/>
<polygon points="432.03,384.95 403.08,368.24 403.08,401.67" fill="none" stroke="#00f800" stroke-width="2.7" stroke-linejoin="miter"/>
<polygon points="436.37,385.89 407.42,369.18 407.42,402.61" fill="none" stroke="#00f800" stroke-width="2.7" stroke-linejoin="miter"/>
<polygon points="440.72,386.83 411.77,370.12 411.77,403.55" fill="none" stroke="#00f800" stroke-width="2.7" stroke-linejoin="miter"/>
<polygon points="445.06,387.77 416.11,371.06 416.11,404.49" fill="none" stroke="#00f800" stroke-width="2.7" stroke-linejoin="miter"/>
<polygon points="449.41,388.71 420.46,372 420.46,405.43" fill="none" stroke="#00f800" stroke-width="2.7" stroke-linejoin="miter"/>
<polygon points="453.75,389.65 424.8,372.94 424.8,406.37" fill="none" stroke="#00f800" stroke-width="2.7" stroke-linejoin="miter"/>
<polygon points="458.1,390.59 429.15,373.88 429.15,407.31" fill="none" stroke="#00f800" stroke-width="2.7" stroke-linejoin="miter"/>
<polygon points="462.44,391.53 433.49,374.82 433.49,408.25" fill="none" stroke="#00f800" stroke-width="2.7" stroke-linejoin="miter"/>
<polygon points="466.78,392.49 437.83,375.77 437.83,409.2" fill="none" stroke="#00f800" stroke-width="2.7" stroke-linejoin="miter"/>
<polygon points="471.13,393.44 442.18,376.73 442.18,410.16" fill="none" stroke="#00f800" stroke-width="2.7" stroke-linejoin="miter"/>
<polygon points="475.47,394.4 446.52,377.68 446.52,411.11" fill="none" stroke="#00f800" stroke-width="2.7" stroke-linejoin="miter"/>
<polygon points="479.81,395.35 450.86,378.64 450.86,412.07" fill="none" stroke="#00f800" stroke-width="2.7" stroke-linejoin="miter"/>
<polygon points="484.15,396.31 455.2,379.59 455.2,413.02" fill="none" stroke="#00f800" stroke-width="2.7" stroke-linejoin="miter"/>
<polygon points="488.48,397.34 459.53,380.62 459.53,414.05" fill="none" stroke="#00f800" stroke-width="2.7" stroke-linejoin="miter"/>
<polygon points="492.75,398.56 463.8,381.84 463.8,415.27" fill="none" stroke="#00f800" stroke-width="2.7" stroke-linejoin="miter"/>
<polygon points="497.03,399.78 468.08,383.06 468.08,416.49" fill="none" stroke="#00f800" stroke-width="2.7" stroke-linejoin="miter"/>
<polygon points="501.3,401 472.35,384.29 472.35,417.71" fill="none" stroke="#00f800" stroke-width="2.7" stroke-linejoin="miter"/>
<polygon points="521.3,413 492.35,396.29 492.35,429.71" fill="none" stroke="#00f800" stroke-width="2.7" stroke-linejoin="miter"/>
<polygon points="585.7,429 556.75,412.29 556.75,445.71" fill="none" stroke="#00f800" stroke-width="2.7" stroke-linejoin="miter"/>
<polygon points="768.5,432 739.55,415.29 739.55,448.71" fill="none" stroke="#00f800" stroke-width="2.7" stroke-linejoin="miter"/>
<polyline points="381,333.5 394,334 415,335.5 443,338.9 462,339.9 497.3,341.8 572.2,344.3 748.1,344.7" fill="none" stroke="#0000e0" stroke-width="2.8" stroke-linejoin="round"/>
<circle cx="381" cy="333.5" r="14.4" fill="none" stroke="#0000e0" stroke-width="2.7"/>
<circle cx="394" cy="334" r="14.4" fill="none" stroke="#0000e0" stroke-width="2.7"/>
<circle cx="415" cy="335.5" r="14.4" fill="none" stroke="#0000e0" stroke-width="2.7"/>
<circle cx="443" cy="338.9" r="14.4" fill="none" stroke="#0000e0" stroke-width="2.7"/>
<circle cx="462" cy="339.9" r="14.4" fill="none" stroke="#0000e0" stroke-width="2.7"/>
<circle cx="497.3" cy="341.8" r="14.4" fill="none" stroke="#0000e0" stroke-width="2.7"/>
<circle cx="572.2" cy="344.3" r="14.4" fill="none" stroke="#0000e0" stroke-width="2.7"/>
<circle cx="748.1" cy="344.7" r="14.4" fill="none" stroke="#0000e0" stroke-width="2.7"/>
<polyline points="370.6,137.2 375.4,137.2 381,137.2 387.4,137.2 393.8,137.2 402.6,137.2 413,137.2 425.1,137.2 441.9,137.2 445.9,137.2 461.1,137.2 496.9,137.2 565.4,137.2 655,137.2" fill="none" stroke="#000000" stroke-width="2.8" stroke-linejoin="round"/>
<polygon points="370.6,121.2 374.19,132.26 385.82,132.26 376.41,139.09 380,150.14 370.6,143.31 361.2,150.14 364.79,139.09 355.38,132.26 367.01,132.26" fill="none" stroke="#000000" stroke-width="3.0" stroke-linejoin="round"/>
<polygon points="375.4,121.2 378.99,132.26 390.62,132.26 381.21,139.09 384.8,150.14 375.4,143.31 366,150.14 369.59,139.09 360.18,132.26 371.81,132.26" fill="none" stroke="#000000" stroke-width="3.0" stroke-linejoin="round"/>
<polygon points="381,121.2 384.59,132.26 396.22,132.26 386.81,139.09 390.4,150.14 381,143.31 371.6,150.14 375.19,139.09 365.78,132.26 377.41,132.26" fill="none" stroke="#000000" stroke-width="3.0" stroke-linejoin="round"/>
<polygon points="387.4,121.2 390.99,132.26 402.62,132.26 393.21,139.09 396.8,150.14 387.4,143.31 378,150.14 381.59,139.09 372.18,132.26 383.81,132.26" fill="none" stroke="#000000" stroke-width="3.0" stroke-linejoin="round"/>
<polygon points="393.8,121.2 397.39,132.26 409.02,132.26 399.61,139.09 403.2,150.14 393.8,143.31 384.4,150.14 387.99,139.09 378.58,132.26 390.21,132.26" fill="none" stroke="#000000" stroke-width="3.0" stroke-linejoin="round"/>
<polygon points="402.6,121.2 406.19,132.26 417.82,132.26 408.41,139.09 412,150.14 402.6,143.31 393.2,150.14 396.79,139.09 387.38,132.26 399.01,132.26" fill="none" stroke="#000000" stroke-width="3.0" stroke-linejoin="round"/>
<polygon points="413,121.2 416.59,132.26 428.22,132.26 418.81,139.09 422.4,150.14 413,143.31 403.6,150.14 407.19,139.09 397.78,132.26 409.41,132.26" fill="none" stroke="#000000" stroke-width="3.0" stroke-linejoin="round"/>
<polygon points="425.1,121.2 428.69,132.26 440.32,132.26 430.91,139.09 434.5,150.14 425.1,143.31 415.7,150.14 419.29,139.09 409.88,132.26 421.51,132.26" fill="none" stroke="#000000" stroke-width="3.0" stroke-linejoin="round"/>
<polygon points="441.9,121.2 445.49,132.26 457.12,132.26 447.71,139.09 451.3,150.14 441.9,143.31 432.5,150.14 436.09,139.09 426.68,132.26 438.31,132.26" fill="none" stroke="#000000" stroke-width="3.0" stroke-linejoin="round"/>
<polygon points="445.9,121.2 449.49,132.26 461.12,132.26 451.71,139.09 455.3,150.14 445.9,143.31 436.5,150.14 440.09,139.09 430.68,132.26 442.31,132.26" fill="none" stroke="#000000" stroke-width="3.0" stroke-linejoin="round"/>
<polygon points="461.1,121.2 464.69,132.26 476.32,132.26 466.91,139.09 470.5,150.14 461.1,143.31 451.7,150.14 455.29,139.09 445.88,132.26 457.51,132.26" fill="none" stroke="#000000" stroke-width="3.0" stroke-linejoin="round"/>
<polygon points="496.9,121.2 500.49,132.26 512.12,132.26 502.71,139.09 506.3,150.14 496.9,143.31 487.5,150.14 491.09,139.09 481.68,132.26 493.31,132.26" fill="none" stroke="#000000" stroke-width="3.0" stroke-linejoin="round"/>
<polygon points="565.4,121.2 568.99,132.26 580.62,132.26 571.21,139.09 574.8,150.14 565.4,143.31 556,150.14 559.59,139.09 550.18,132.26 561.81,132.26" fill="none" stroke="#000000" stroke-width="3.0" stroke-linejoin="round"/>
<polygon points="655,121.2 658.59,132.26 670.22,132.26 660.81,139.09 664.4,150.14 655,143.31 645.6,150.14 649.19,139.09 639.78,132.26 651.41,132.26" fill="none" stroke="#000000" stroke-width="3.0" stroke-linejoin="round"/>
<polyline points="1315.5,189.5 1341.5,204.5 1372.8,230 1408,265.6 1449.2,327.8 1493.6,422.6 1548.3,595 1619.5,833" fill="none" stroke="#000000" stroke-width="2.8" stroke-linejoin="round"/>
<circle cx="1315.5" cy="189.5" r="14.4" fill="none" stroke="#000000" stroke-width="2.7"/>
<circle cx="1341.5" cy="204.5" r="14.4" fill="none" stroke="#000000" stroke-width="2.7"/>
<circle cx="1372.8" cy="230" r="14.4" fill="none" stroke="#000000" stroke-width="2.7"/>
<circle cx="1408" cy="265.6" r="14.4" fill="none" stroke="#000000" stroke-width="2.7"/>
<circle cx="1449.2" cy="327.8" r="14.4" fill="none" stroke="#000000" stroke-width="2.7"/>
<circle cx="1493.6" cy="422.6" r="14.4" fill="none" stroke="#000000" stroke-width="2.7"/>
<circle cx="1548.3" cy="595" r="14.4" fill="none" stroke="#000000" stroke-width="2.7"/>
<circle cx="1619.5" cy="833" r="14.4" fill="none" stroke="#000000" stroke-width="2.7"/>
<polyline points="1052.6,66.1 1108.8,79.2 1307.4,169 1343.5,197 1393.6,249.2 1449.7,324 1485.5,406.7 1533.6,495.9 1563.5,624.5 1607.8,752 1648.9,864" fill="none" stroke="#ff00ff" stroke-width="2.8" stroke-linejoin="round"/>
<polygon points="1052.6,85.4 1035.89,56.45 1069.31,56.45" fill="none" stroke="#ff00ff" stroke-width="2.7" stroke-linejoin="miter"/>
<polygon points="1108.8,98.5 1092.09,69.55 1125.51,69.55" fill="none" stroke="#ff00ff" stroke-width="2.7" stroke-linejoin="miter"/>
<polygon points="1307.4,188.3 1290.69,159.35 1324.11,159.35" fill="none" stroke="#ff00ff" stroke-width="2.7" stroke-linejoin="miter"/>
<polygon points="1343.5,216.3 1326.79,187.35 1360.21,187.35" fill="none" stroke="#ff00ff" stroke-width="2.7" stroke-linejoin="miter"/>
<polygon points="1393.6,268.5 1376.89,239.55 1410.31,239.55" fill="none" stroke="#ff00ff" stroke-width="2.7" stroke-linejoin="miter"/>
<polygon points="1449.7,343.3 1432.99,314.35 1466.41,314.35" fill="none" stroke="#ff00ff" stroke-width="2.7" stroke-linejoin="miter"/>
<polygon points="1485.5,426 1468.79,397.05 1502.21,397.05" fill="none" stroke="#ff00ff" stroke-width="2.7" stroke-linejoin="miter"/>
<polygon points="1533.6,515.2 1516.89,486.25 1550.31,486.25" fill="none" stroke="#ff00ff" stroke-width="2.7" stroke-linejoin="miter"/>
<polygon points="1563.5,643.8 1546.79,614.85 1580.21,614.85" fill="none" stroke="#ff00ff" stroke-width="2.7" stroke-linejoin="miter"/>
<polygon points="1607.8,771.3 1591.09,742.35 1624.51,742.35" fill="none" stroke="#ff00ff" stroke-width="2.7" stroke-linejoin="miter"/>
<polygon points="1648.9,883.3 1632.19,854.35 1665.61,854.35" fill="none" stroke="#ff00ff" stroke-width="2.7" stroke-linejoin="miter"/>
<polyline points="1321.8,178.7 1367.9,219.6 1421.9,289.2 1455,340 1491,412.5 1529.9,524 1607.8,752 1648.9,864" fill="none" stroke="#ff00ff" stroke-width="2.8" stroke-linejoin="round"/>
<polygon points="1321.8,198 1305.09,169.05 1338.51,169.05" fill="none" stroke="#ff00ff" stroke-width="2.7" stroke-linejoin="miter"/>
<polygon points="1367.9,238.9 1351.19,209.95 1384.61,209.95" fill="none" stroke="#ff00ff" stroke-width="2.7" stroke-linejoin="miter"/>
<polygon points="1421.9,308.5 1405.19,279.55 1438.61,279.55" fill="none" stroke="#ff00ff" stroke-width="2.7" stroke-linejoin="miter"/>
<polygon points="1455,359.3 1438.29,330.35 1471.71,330.35" fill="none" stroke="#ff00ff" stroke-width="2.7" stroke-linejoin="miter"/>
<polygon points="1491,431.8 1474.29,402.85 1507.71,402.85" fill="none" stroke="#ff00ff" stroke-width="2.7" stroke-linejoin="miter"/>
<polygon points="1529.9,543.3 1513.19,514.35 1546.61,514.35" fill="none" stroke="#ff00ff" stroke-width="2.7" stroke-linejoin="miter"/>
<polygon points="1607.8,771.3 1591.09,742.35 1624.51,742.35" fill="none" stroke="#ff00ff" stroke-width="2.7" stroke-linejoin="miter"/>
<polygon points="1648.9,883.3 1632.19,854.35 1665.61,854.35" fill="none" stroke="#ff00ff" stroke-width="2.7" stroke-linejoin="miter"/>
<polyline points="1107,137.8 1120,145.1 1131.9,149.7 1143.7,156.5 1155.6,161 1218,221 1228,226 1237,233 1258,245.4 1270.5,250.9 1283,258 1306,269.3 1333.2,281.1 1352.4,289.1 1384.5,301.9 1410,311.5 1489,423 1580.6,643" fill="none" stroke="#00f0f0" stroke-width="2.8" stroke-linejoin="round"/>
<polygon points="1107,121.8 1110.59,132.86 1122.22,132.86 1112.81,139.69 1116.4,150.74 1107,143.91 1097.6,150.74 1101.19,139.69 1091.78,132.86 1103.41,132.86" fill="none" stroke="#00f0f0" stroke-width="2.7" stroke-linejoin="round"/>
<polygon points="1120,129.1 1123.59,140.16 1135.22,140.16 1125.81,146.99 1129.4,158.04 1120,151.21 1110.6,158.04 1114.19,146.99 1104.78,140.16 1116.41,140.16" fill="none" stroke="#00f0f0" stroke-width="2.7" stroke-linejoin="round"/>
<polygon points="1131.9,133.7 1135.49,144.76 1147.12,144.76 1137.71,151.59 1141.3,162.64 1131.9,155.81 1122.5,162.64 1126.09,151.59 1116.68,144.76 1128.31,144.76" fill="none" stroke="#00f0f0" stroke-width="2.7" stroke-linejoin="round"/>
<polygon points="1143.7,140.5 1147.29,151.56 1158.92,151.56 1149.51,158.39 1153.1,169.44 1143.7,162.61 1134.3,169.44 1137.89,158.39 1128.48,151.56 1140.11,151.56" fill="none" stroke="#00f0f0" stroke-width="2.7" stroke-linejoin="round"/>
<polygon points="1155.6,145 1159.19,156.06 1170.82,156.06 1161.41,162.89 1165,173.94 1155.6,167.11 1146.2,173.94 1149.79,162.89 1140.38,156.06 1152.01,156.06" fill="none" stroke="#00f0f0" stroke-width="2.7" stroke-linejoin="round"/>
<polygon points="1218,205 1221.59,216.06 1233.22,216.06 1223.81,222.89 1227.4,233.94 1218,227.11 1208.6,233.94 1212.19,222.89 1202.78,216.06 1214.41,216.06" fill="none" stroke="#00f0f0" stroke-width="2.7" stroke-linejoin="round"/>
<polygon points="1228,210 1231.59,221.06 1243.22,221.06 1233.81,227.89 1237.4,238.94 1228,232.11 1218.6,238.94 1222.19,227.89 1212.78,221.06 1224.41,221.06" fill="none" stroke="#00f0f0" stroke-width="2.7" stroke-linejoin="round"/>
<polygon points="1237,217 1240.59,228.06 1252.22,228.06 1242.81,234.89 1246.4,245.94 1237,239.11 1227.6,245.94 1231.19,234.89 1221.78,228.06 1233.41,228.06" fill="none" stroke="#00f0f0" stroke-width="2.7" stroke-linejoin="round"/>
<polygon points="1258,229.4 1261.59,240.46 1273.22,240.46 1263.81,247.29 1267.4,258.34 1258,251.51 1248.6,258.34 1252.19,247.29 1242.78,240.46 1254.41,240.46" fill="none" stroke="#00f0f0" stroke-width="2.7" stroke-linejoin="round"/>
<polygon points="1270.5,234.9 1274.09,245.96 1285.72,245.96 1276.31,252.79 1279.9,263.84 1270.5,257.01 1261.1,263.84 1264.69,252.79 1255.28,245.96 1266.91,245.96" fill="none" stroke="#00f0f0" stroke-width="2.7" stroke-linejoin="round"/>
<polygon points="1283,242 1286.59,253.06 1298.22,253.06 1288.81,259.89 1292.4,270.94 1283,264.11 1273.6,270.94 1277.19,259.89 1267.78,253.06 1279.41,253.06" fill="none" stroke="#00f0f0" stroke-width="2.7" stroke-linejoin="round"/>
<polygon points="1306,253.3 1309.59,264.36 1321.22,264.36 1311.81,271.19 1315.4,282.24 1306,275.41 1296.6,282.24 1300.19,271.19 1290.78,264.36 1302.41,264.36" fill="none" stroke="#00f0f0" stroke-width="2.7" stroke-linejoin="round"/>
<polygon points="1333.2,265.1 1336.79,276.16 1348.42,276.16 1339.01,282.99 1342.6,294.04 1333.2,287.21 1323.8,294.04 1327.39,282.99 1317.98,276.16 1329.61,276.16" fill="none" stroke="#00f0f0" stroke-width="2.7" stroke-linejoin="round"/>
<polygon points="1352.4,273.1 1355.99,284.16 1367.62,284.16 1358.21,290.99 1361.8,302.04 1352.4,295.21 1343,302.04 1346.59,290.99 1337.18,284.16 1348.81,284.16" fill="none" stroke="#00f0f0" stroke-width="2.7" stroke-linejoin="round"/>
<polygon points="1384.5,285.9 1388.09,296.96 1399.72,296.96 1390.31,303.79 1393.9,314.84 1384.5,308.01 1375.1,314.84 1378.69,303.79 1369.28,296.96 1380.91,296.96" fill="none" stroke="#00f0f0" stroke-width="2.7" stroke-linejoin="round"/>
<polygon points="1410,295.5 1413.59,306.56 1425.22,306.56 1415.81,313.39 1419.4,324.44 1410,317.61 1400.6,324.44 1404.19,313.39 1394.78,306.56 1406.41,306.56" fill="none" stroke="#00f0f0" stroke-width="2.7" stroke-linejoin="round"/>
<polygon points="1489,407 1492.59,418.06 1504.22,418.06 1494.81,424.89 1498.4,435.94 1489,429.11 1479.6,435.94 1483.19,424.89 1473.78,418.06 1485.41,418.06" fill="none" stroke="#00f0f0" stroke-width="2.7" stroke-linejoin="round"/>
<polygon points="1580.6,627 1584.19,638.06 1595.82,638.06 1586.41,644.89 1590,655.94 1580.6,649.11 1571.2,655.94 1574.79,644.89 1565.38,638.06 1577.01,638.06" fill="none" stroke="#00f0f0" stroke-width="2.7" stroke-linejoin="round"/>
<line x1="1341" y1="29" x2="1697" y2="1004.8" stroke="#000" stroke-width="3" stroke-dasharray="16 11.5"/>
<g stroke="#262626" stroke-width="2"><line x1="147.6" y1="1001.1" x2="147.6" y2="991.1"/>
<line x1="147.6" y1="25.3" x2="147.6" y2="35.3"/>
<line x1="264.63" y1="1001.1" x2="264.63" y2="991.1"/>
<line x1="264.63" y1="25.3" x2="264.63" y2="35.3"/>
<line x1="381.67" y1="1001.1" x2="381.67" y2="991.1"/>
<line x1="381.67" y1="25.3" x2="381.67" y2="35.3"/>
<line x1="498.7" y1="1001.1" x2="498.7" y2="991.1"/>
<line x1="498.7" y1="25.3" x2="498.7" y2="35.3"/>
<line x1="615.73" y1="1001.1" x2="615.73" y2="991.1"/>
<line x1="615.73" y1="25.3" x2="615.73" y2="35.3"/>
<line x1="732.77" y1="1001.1" x2="732.77" y2="991.1"/>
<line x1="732.77" y1="25.3" x2="732.77" y2="35.3"/>
<line x1="849.8" y1="1001.1" x2="849.8" y2="991.1"/>
<line x1="849.8" y1="25.3" x2="849.8" y2="35.3"/>
<line x1="147.6" y1="1001.1" x2="157.6" y2="1001.1"/>
<line x1="849.8" y1="1001.1" x2="839.8" y2="1001.1"/>
<line x1="147.6" y1="805.94" x2="157.6" y2="805.94"/>
<line x1="849.8" y1="805.94" x2="839.8" y2="805.94"/>
<line x1="147.6" y1="610.78" x2="157.6" y2="610.78"/>
<line x1="849.8" y1="610.78" x2="839.8" y2="610.78"/>
<line x1="147.6" y1="415.62" x2="157.6" y2="415.62"/>
<line x1="849.8" y1="415.62" x2="839.8" y2="415.62"/>
<line x1="147.6" y1="220.46" x2="157.6" y2="220.46"/>
<line x1="849.8" y1="220.46" x2="839.8" y2="220.46"/>
<line x1="147.6" y1="25.3" x2="157.6" y2="25.3"/>
<line x1="849.8" y1="25.3" x2="839.8" y2="25.3"/>
<line x1="147.6" y1="942.35" x2="151.6" y2="942.35"/>
<line x1="849.8" y1="942.35" x2="845.8" y2="942.35"/>
<line x1="147.6" y1="907.99" x2="151.6" y2="907.99"/>
<line x1="849.8" y1="907.99" x2="845.8" y2="907.99"/>
<line x1="147.6" y1="883.6" x2="151.6" y2="883.6"/>
<line x1="849.8" y1="883.6" x2="845.8" y2="883.6"/>
<line x1="147.6" y1="864.69" x2="151.6" y2="864.69"/>
<line x1="849.8" y1="864.69" x2="845.8" y2="864.69"/>
<line x1="147.6" y1="849.24" x2="151.6" y2="849.24"/>
<line x1="849.8" y1="849.24" x2="845.8" y2="849.24"/>
<line x1="147.6" y1="836.17" x2="151.6" y2="836.17"/>
<line x1="849.8" y1="836.17" x2="845.8" y2="836.17"/>
<line x1="147.6" y1="824.85" x2="151.6" y2="824.85"/>
<line x1="849.8" y1="824.85" x2="845.8" y2="824.85"/>
<line x1="147.6" y1="814.87" x2="151.6" y2="814.87"/>
<line x1="849.8" y1="814.87" x2="845.8" y2="814.87"/>
<line x1="147.6" y1="747.19" x2="151.6" y2="747.19"/>
<line x1="849.8" y1="747.19" x2="845.8" y2="747.19"/>
<line x1="147.6" y1="712.83" x2="151.6" y2="712.83"/>
<line x1="849.8" y1="712.83" x2="845.8" y2="712.83"/>
<line x1="147.6" y1="688.44" x2="151.6" y2="688.44"/>
<line x1="849.8" y1="688.44" x2="845.8" y2="688.44"/>
<line x1="147.6" y1="669.53" x2="151.6" y2="669.53"/>
<line x1="849.8" y1="669.53" x2="845.8" y2="669.53"/>
<line x1="147.6" y1="654.08" x2="151.6" y2="654.08"/>
<line x1="849.8" y1="654.08" x2="845.8" y2="654.08"/>
<line x1="147.6" y1="641.01" x2="151.6" y2="641.01"/>
<line x1="849.8" y1="641.01" x2="845.8" y2="641.01"/>
<line x1="147.6" y1="629.69" x2="151.6" y2="629.69"/>
<line x1="849.8" y1="629.69" x2="845.8" y2="629.69"/>
<line x1="147.6" y1="619.71" x2="151.6" y2="619.71"/>
<line x1="849.8" y1="619.71" x2="845.8" y2="619.71"/>
<line x1="147.6" y1="552.03" x2="151.6" y2="552.03"/>
<line x1="849.8" y1="552.03" x2="845.8" y2="552.03"/>
<line x1="147.6" y1="517.67" x2="151.6" y2="517.67"/>
<line x1="849.8" y1="517.67" x2="845.8" y2="517.67"/>
<line x1="147.6" y1="493.28" x2="151.6" y2="493.28"/>
<line x1="849.8" y1="493.28" x2="845.8" y2="493.28"/>
<line x1="147.6" y1="474.37" x2="151.6" y2="474.37"/>
<line x1="849.8" y1="474.37" x2="845.8" y2="474.37"/>
<line x1="147.6" y1="458.92" x2="151.6" y2="458.92"/>
<line x1="849.8" y1="458.92" x2="845.8" y2="458.92"/>
<line x1="147.6" y1="445.85" x2="151.6" y2="445.85"/>
<line x1="849.8" y1="445.85" x2="845.8" y2="445.85"/>
<line x1="147.6" y1="434.53" x2="151.6" y2="434.53"/>
<line x1="849.8" y1="434.53" x2="845.8" y2="434.53"/>
<line x1="147.6" y1="424.55" x2="151.6" y2="424.55"/>
<line x1="849.8" y1="424.55" x2="845.8" y2="424.55"/>
<line x1="147.6" y1="356.87" x2="151.6" y2="356.87"/>
<line x1="849.8" y1="356.87" x2="845.8" y2="356.87"/>
<line x1="147.6" y1="322.51" x2="151.6" y2="322.51"/>
<line x1="849.8" y1="322.51" x2="845.8" y2="322.51"/>
<line x1="147.6" y1="298.12" x2="151.6" y2="298.12"/>
<line x1="849.8" y1="298.12" x2="845.8" y2="298.12"/>
<line x1="147.6" y1="279.21" x2="151.6" y2="279.21"/>
<line x1="849.8" y1="279.21" x2="845.8" y2="279.21"/>
<line x1="147.6" y1="263.76" x2="151.6" y2="263.76"/>
<line x1="849.8" y1="263.76" x2="845.8" y2="263.76"/>
<line x1="147.6" y1="250.69" x2="151.6" y2="250.69"/>
<line x1="849.8" y1="250.69" x2="845.8" y2="250.69"/>
<line x1="147.6" y1="239.37" x2="151.6" y2="239.37"/>
<line x1="849.8" y1="239.37" x2="845.8" y2="239.37"/>
<line x1="147.6" y1="229.39" x2="151.6" y2="229.39"/>
<line x1="849.8" y1="229.39" x2="845.8" y2="229.39"/>
<line x1="147.6" y1="161.71" x2="151.6" y2="161.71"/>
<line x1="849.8" y1="161.71" x2="845.8" y2="161.71"/>
<line x1="147.6" y1="127.35" x2="151.6" y2="127.35"/>
<line x1="849.8" y1="127.35" x2="845.8" y2="127.35"/>
<line x1="147.6" y1="102.96" x2="151.6" y2="102.96"/>
<line x1="849.8" y1="102.96" x2="845.8" y2="102.96"/>
<line x1="147.6" y1="84.05" x2="151.6" y2="84.05"/>
<line x1="849.8" y1="84.05" x2="845.8" y2="84.05"/>
<line x1="147.6" y1="68.6" x2="151.6" y2="68.6"/>
<line x1="849.8" y1="68.6" x2="845.8" y2="68.6"/>
<line x1="147.6" y1="55.53" x2="151.6" y2="55.53"/>
<line x1="849.8" y1="55.53" x2="845.8" y2="55.53"/>
<line x1="147.6" y1="44.21" x2="151.6" y2="44.21"/>
<line x1="849.8" y1="44.21" x2="845.8" y2="44.21"/>
<line x1="147.6" y1="34.23" x2="151.6" y2="34.23"/>
<line x1="849.8" y1="34.23" x2="845.8" y2="34.23"/>
<rect x="147.6" y="25.3" width="702.2" height="975.8" fill="none" stroke="#262626" stroke-width="1.9"/></g>
<g stroke="#262626" stroke-width="2"><line x1="1021.4" y1="1004.8" x2="1021.4" y2="994.8"/>
<line x1="1021.4" y1="29" x2="1021.4" y2="39"/>
<line x1="1255.5" y1="1004.8" x2="1255.5" y2="994.8"/>
<line x1="1255.5" y1="29" x2="1255.5" y2="39"/>
<line x1="1489.6" y1="1004.8" x2="1489.6" y2="994.8"/>
<line x1="1489.6" y1="29" x2="1489.6" y2="39"/>
<line x1="1723.7" y1="1004.8" x2="1723.7" y2="994.8"/>
<line x1="1723.7" y1="29" x2="1723.7" y2="39"/>
<line x1="1021.4" y1="1004.8" x2="1031.4" y2="1004.8"/>
<line x1="1723.7" y1="1004.8" x2="1713.7" y2="1004.8"/>
<line x1="1021.4" y1="708.7" x2="1031.4" y2="708.7"/>
<line x1="1723.7" y1="708.7" x2="1713.7" y2="708.7"/>
<line x1="1021.4" y1="412.6" x2="1031.4" y2="412.6"/>
<line x1="1723.7" y1="412.6" x2="1713.7" y2="412.6"/>
<line x1="1021.4" y1="116.5" x2="1031.4" y2="116.5"/>
<line x1="1723.7" y1="116.5" x2="1713.7" y2="116.5"/>
<line x1="1021.4" y1="915.67" x2="1025.4" y2="915.67"/>
<line x1="1723.7" y1="915.67" x2="1719.7" y2="915.67"/>
<line x1="1021.4" y1="863.52" x2="1025.4" y2="863.52"/>
<line x1="1723.7" y1="863.52" x2="1719.7" y2="863.52"/>
<line x1="1021.4" y1="826.53" x2="1025.4" y2="826.53"/>
<line x1="1723.7" y1="826.53" x2="1719.7" y2="826.53"/>
<line x1="1021.4" y1="797.83" x2="1025.4" y2="797.83"/>
<line x1="1723.7" y1="797.83" x2="1719.7" y2="797.83"/>
<line x1="1021.4" y1="774.39" x2="1025.4" y2="774.39"/>
<line x1="1723.7" y1="774.39" x2="1719.7" y2="774.39"/>
<line x1="1021.4" y1="754.57" x2="1025.4" y2="754.57"/>
<line x1="1723.7" y1="754.57" x2="1719.7" y2="754.57"/>
<line x1="1021.4" y1="737.4" x2="1025.4" y2="737.4"/>
<line x1="1723.7" y1="737.4" x2="1719.7" y2="737.4"/>
<line x1="1021.4" y1="722.25" x2="1025.4" y2="722.25"/>
<line x1="1723.7" y1="722.25" x2="1719.7" y2="722.25"/>
<line x1="1021.4" y1="619.57" x2="1025.4" y2="619.57"/>
<line x1="1723.7" y1="619.57" x2="1719.7" y2="619.57"/>
<line x1="1021.4" y1="567.42" x2="1025.4" y2="567.42"/>
<line x1="1723.7" y1="567.42" x2="1719.7" y2="567.42"/>
<line x1="1021.4" y1="530.43" x2="1025.4" y2="530.43"/>
<line x1="1723.7" y1="530.43" x2="1719.7" y2="530.43"/>
<line x1="1021.4" y1="501.73" x2="1025.4" y2="501.73"/>
<line x1="1723.7" y1="501.73" x2="1719.7" y2="501.73"/>
<line x1="1021.4" y1="478.29" x2="1025.4" y2="478.29"/>
<line x1="1723.7" y1="478.29" x2="1719.7" y2="478.29"/>
<line x1="1021.4" y1="458.47" x2="1025.4" y2="458.47"/>
<line x1="1723.7" y1="458.47" x2="1719.7" y2="458.47"/>
<line x1="1021.4" y1="441.3" x2="1025.4" y2="441.3"/>
<line x1="1723.7" y1="441.3" x2="1719.7" y2="441.3"/>
<line x1="1021.4" y1="426.15" x2="1025.4" y2="426.15"/>
<line x1="1723.7" y1="426.15" x2="1719.7" y2="426.15"/>
<line x1="1021.4" y1="323.47" x2="1025.4" y2="323.47"/>
<line x1="1723.7" y1="323.47" x2="1719.7" y2="323.47"/>
<line x1="1021.4" y1="271.32" x2="1025.4" y2="271.32"/>
<line x1="1723.7" y1="271.32" x2="1719.7" y2="271.32"/>
<line x1="1021.4" y1="234.33" x2="1025.4" y2="234.33"/>
<line x1="1723.7" y1="234.33" x2="1719.7" y2="234.33"/>
<line x1="1021.4" y1="205.63" x2="1025.4" y2="205.63"/>
<line x1="1723.7" y1="205.63" x2="1719.7" y2="205.63"/>
<line x1="1021.4" y1="182.19" x2="1025.4" y2="182.19"/>
<line x1="1723.7" y1="182.19" x2="1719.7" y2="182.19"/>
<line x1="1021.4" y1="162.37" x2="1025.4" y2="162.37"/>
<line x1="1723.7" y1="162.37" x2="1719.7" y2="162.37"/>
<line x1="1021.4" y1="145.2" x2="1025.4" y2="145.2"/>
<line x1="1723.7" y1="145.2" x2="1719.7" y2="145.2"/>
<line x1="1021.4" y1="130.05" x2="1025.4" y2="130.05"/>
<line x1="1723.7" y1="130.05" x2="1719.7" y2="130.05"/>
<rect x="1021.4" y="29" width="702.3" height="975.8" fill="none" stroke="#262626" stroke-width="1.9"/></g>
<text x="135" y="1020.9" text-anchor="end" font-size="36" fill="#000">10<tspan dy="-18" font-size="32">-3</tspan></text>
<text x="135" y="825.74" text-anchor="end" font-size="36" fill="#000">10<tspan dy="-18" font-size="32">-2</tspan></text>
<text x="135" y="630.58" text-anchor="end" font-size="36" fill="#000">10<tspan dy="-18" font-size="32">-1</tspan></text>
<text x="135" y="435.42" text-anchor="end" font-size="36" fill="#000">10<tspan dy="-18" font-size="32">0</tspan></text>
<text x="135" y="240.26" text-anchor="end" font-size="36" fill="#000">10<tspan dy="-18" font-size="32">1</tspan></text>
<text x="135" y="45.1" text-anchor="end" font-size="36" fill="#000">10<tspan dy="-18" font-size="32">2</tspan></text>
<text x="1009.5" y="1024.6" text-anchor="end" font-size="36" fill="#000">10<tspan dy="-18" font-size="32">-3</tspan></text>
<text x="1009.5" y="728.5" text-anchor="end" font-size="36" fill="#000">10<tspan dy="-18" font-size="32">-2</tspan></text>
<text x="1009.5" y="432.4" text-anchor="end" font-size="36" fill="#000">10<tspan dy="-18" font-size="32">-1</tspan></text>
<text x="1009.5" y="136.3" text-anchor="end" font-size="36" fill="#000">10<tspan dy="-18" font-size="32">0</tspan></text>
<text x="147.6" y="1051.5" text-anchor="middle" font-size="37" fill="#000">0</text>
<text x="264.63" y="1051.5" text-anchor="middle" font-size="37" fill="#000">0.5</text>
<text x="381.67" y="1051.5" text-anchor="middle" font-size="37" fill="#000">1</text>
<text x="498.7" y="1051.5" text-anchor="middle" font-size="37" fill="#000">1.5</text>
<text x="615.73" y="1051.5" text-anchor="middle" font-size="37" fill="#000">2</text>
<text x="732.77" y="1051.5" text-anchor="middle" font-size="37" fill="#000">2.5</text>
<text x="849.8" y="1051.5" text-anchor="middle" font-size="37" fill="#000">3</text>
<text x="1021.4" y="1055" text-anchor="middle" font-size="37" fill="#000">20</text>
<text x="1255.5" y="1055" text-anchor="middle" font-size="37" fill="#000">25</text>
<text x="1489.6" y="1055" text-anchor="middle" font-size="37" fill="#000">30</text>
<text x="1723.7" y="1055" text-anchor="middle" font-size="37" fill="#000">35</text>
<text x="376" y="1110.5" font-size="41" fill="#000">(1/T)<tspan dy="-20" font-size="31">1/4</tspan><tspan dy="20"> (K</tspan><tspan dy="-20" font-size="31">-1/4</tspan><tspan dy="20">)</tspan></text>
<text x="1240" y="1114" font-size="41" fill="#000">(T<tspan dy="19.5" font-size="31">o</tspan><tspan dy="-19.5">/T)</tspan><tspan dy="-20" font-size="31">1/4</tspan><tspan dy="20" dx="3.5"> (K</tspan><tspan dy="-20" font-size="31">-1/4</tspan><tspan dy="20">)</tspan></text>
<text transform="translate(55.5,610.4) rotate(-90) scale(1.1,0.86)" x="-1.5" font-size="41" fill="#000">&#963;</text>
<text transform="translate(55.5,575.9) rotate(-90)" x="0" font-size="41" fill="#000">(e<tspan dy="-20" font-size="31">2</tspan><tspan dy="20">/h)xsqr</tspan></text>
<text transform="translate(920.5,631.4) rotate(-90) scale(1.1,0.86)" x="-1.5" font-size="41" fill="#000">&#963;</text>
<text transform="translate(920.5,596.9) rotate(-90)" x="0" font-size="41" fill="#000">(e<tspan dy="-20" font-size="31">2</tspan><tspan dy="20">/h)xsqr</tspan></text>
<text x="36" y="30" font-size="37" fill="#000">(a)</text>
<text x="921" y="34" font-size="37" fill="#000">(b)</text>
<rect x="550" y="451.7" width="254.4" height="536.3" fill="#ffffff" stroke="#262626" stroke-width="1.4"/>
<line x1="559" y1="477.8" x2="644.5" y2="477.8" stroke="#000000" stroke-width="2.5"/>
<circle cx="601.75" cy="477.8" r="14.4" fill="none" stroke="#000000" stroke-width="2.7"/>
<text x="651" y="496.5" font-size="33" fill="#000">2.0x10<tspan dy="-16" font-size="26">15</tspan></text>
<line x1="559" y1="526.21" x2="644.5" y2="526.21" stroke="#000000" stroke-width="2.5"/>
<rect x="591.15" y="515.61" width="21.2" height="21.2" fill="none" stroke="#000000" stroke-width="2.7"/>
<text x="651" y="544.91" font-size="33" fill="#000">3.8x10<tspan dy="-16" font-size="26">14</tspan></text>
<line x1="559" y1="574.62" x2="644.5" y2="574.62" stroke="#000000" stroke-width="2.5"/>
<rect x="591.15" y="564.02" width="21.2" height="21.2" fill="none" stroke="#000000" stroke-width="2.7"/>
<text x="651" y="593.32" font-size="33" fill="#000">3.8x10<tspan dy="-16" font-size="26">14</tspan></text>
<line x1="559" y1="623.03" x2="644.5" y2="623.03" stroke="#ff00ff" stroke-width="2.5"/>
<polygon points="601.75,642.33 585.04,613.38 618.46,613.38" fill="none" stroke="#ff00ff" stroke-width="2.7" stroke-linejoin="miter"/>
<text x="651" y="641.73" font-size="33" fill="#000">1.6x10<tspan dy="-16" font-size="26">14</tspan></text>
<line x1="559" y1="671.44" x2="644.5" y2="671.44" stroke="#ff00ff" stroke-width="2.5"/>
<polygon points="601.75,690.74 585.04,661.79 618.46,661.79" fill="none" stroke="#ff00ff" stroke-width="2.7" stroke-linejoin="miter"/>
<text x="651" y="690.14" font-size="33" fill="#000">1.6x10<tspan dy="-16" font-size="26">14</tspan></text>
<line x1="559" y1="719.85" x2="644.5" y2="719.85" stroke="#00f0f0" stroke-width="2.5"/>
<polygon points="601.75,703.85 605.34,714.91 616.97,714.91 607.56,721.74 611.15,732.79 601.75,725.96 592.35,732.79 595.94,721.74 586.53,714.91 598.16,714.91" fill="none" stroke="#00f0f0" stroke-width="2.7" stroke-linejoin="round"/>
<text x="651" y="738.55" font-size="33" fill="#000">1.5x10<tspan dy="-16" font-size="26">14</tspan></text>
<line x1="559" y1="768.26" x2="644.5" y2="768.26" stroke="#e01010" stroke-width="2.5"/>
<polygon points="582.45,768.26 611.4,751.55 611.4,784.97" fill="none" stroke="#e01010" stroke-width="2.7" stroke-linejoin="miter"/>
<text x="651" y="786.96" font-size="33" fill="#000">7.3x10<tspan dy="-16" font-size="26">13</tspan></text>
<line x1="559" y1="816.67" x2="644.5" y2="816.67" stroke="#00f800" stroke-width="2.5"/>
<polygon points="621.05,816.67 592.1,799.96 592.1,833.38" fill="none" stroke="#00f800" stroke-width="2.7" stroke-linejoin="miter"/>
<text x="651" y="835.37" font-size="33" fill="#000">3.7x10<tspan dy="-16" font-size="26">13</tspan></text>
<line x1="559" y1="865.08" x2="644.5" y2="865.08" stroke="#00f800" stroke-width="2.5"/>
<polygon points="621.05,865.08 592.1,848.37 592.1,881.79" fill="none" stroke="#00f800" stroke-width="2.7" stroke-linejoin="miter"/>
<text x="651" y="883.78" font-size="33" fill="#000">3.7x10<tspan dy="-16" font-size="26">13</tspan></text>
<line x1="559" y1="913.49" x2="644.5" y2="913.49" stroke="#0000e0" stroke-width="2.5"/>
<circle cx="601.75" cy="913.49" r="14.4" fill="none" stroke="#0000e0" stroke-width="2.7"/>
<text x="651" y="932.19" font-size="33" fill="#000">1.9x10<tspan dy="-16" font-size="26">13</tspan></text>
<line x1="559" y1="961.9" x2="644.5" y2="961.9" stroke="#000000" stroke-width="2.5"/>
<polygon points="601.75,945.9 605.34,956.96 616.97,956.96 607.56,963.79 611.15,974.84 601.75,968.01 592.35,974.84 595.94,963.79 586.53,956.96 598.16,956.96" fill="none" stroke="#000000" stroke-width="2.7" stroke-linejoin="round"/>
<text x="651" y="980.6" font-size="33" fill="#000">0 ions/cm<tspan dy="-16" font-size="26">2</tspan></text>
<rect x="1070.2" y="623.9" width="357.8" height="259.1" fill="#ffffff" stroke="#262626" stroke-width="1.4"/>
<line x1="1079.5" y1="649" x2="1164.8" y2="649" stroke="#000000" stroke-width="2.5"/>
<circle cx="1122.15" cy="649" r="14.4" fill="none" stroke="#000000" stroke-width="2.7"/>
<text x="1173.3" y="667.7" font-size="33" fill="#000">2.0x10<tspan dy="-16" font-size="26">15</tspan><tspan dy="16" dx="2.5"> ions/cm</tspan><tspan dy="-16" font-size="26">2</tspan></text>
<line x1="1079.5" y1="697.6" x2="1164.8" y2="697.6" stroke="#ff00ff" stroke-width="2.5"/>
<polygon points="1122.15,716.9 1105.44,687.95 1138.86,687.95" fill="none" stroke="#ff00ff" stroke-width="2.7" stroke-linejoin="miter"/>
<text x="1173.3" y="716.3" font-size="33" fill="#000">1.6x10<tspan dy="-16" font-size="26">14</tspan><tspan dy="16" dx="2.5"> ions/cm</tspan><tspan dy="-16" font-size="26">2</tspan></text>
<line x1="1079.5" y1="746.2" x2="1164.8" y2="746.2" stroke="#ff00ff" stroke-width="2.5"/>
<polygon points="1122.15,765.5 1105.44,736.55 1138.86,736.55" fill="none" stroke="#ff00ff" stroke-width="2.7" stroke-linejoin="miter"/>
<text x="1173.3" y="764.9" font-size="33" fill="#000">1.6x10<tspan dy="-16" font-size="26">14</tspan><tspan dy="16" dx="2.5"> ions/cm</tspan><tspan dy="-16" font-size="26">2</tspan></text>
<line x1="1079.5" y1="794.8" x2="1164.8" y2="794.8" stroke="#00f0f0" stroke-width="2.5"/>
<polygon points="1122.15,778.8 1125.74,789.86 1137.37,789.86 1127.96,796.69 1131.55,807.74 1122.15,800.91 1112.75,807.74 1116.34,796.69 1106.93,789.86 1118.56,789.86" fill="none" stroke="#00f0f0" stroke-width="2.7" stroke-linejoin="round"/>
<text x="1173.3" y="813.5" font-size="33" fill="#000">1.5x10<tspan dy="-16" font-size="26">14</tspan><tspan dy="16" dx="2.5"> ions/cm</tspan><tspan dy="-16" font-size="26">2</tspan></text>
<line x1="1079.5" y1="851.3" x2="1164.8" y2="851.3" stroke="#000000" stroke-width="2.6" stroke-dasharray="17 10"/>
<text x="1173.3" y="870" font-size="33" fill="#000">T<tspan dy="6" font-size="26">o</tspan><tspan dy="-6"> = 7x10</tspan><tspan dy="-16" font-size="26">5</tspan><tspan dy="16" dx="4"> K</tspan></text>
</svg>
</body></html>
